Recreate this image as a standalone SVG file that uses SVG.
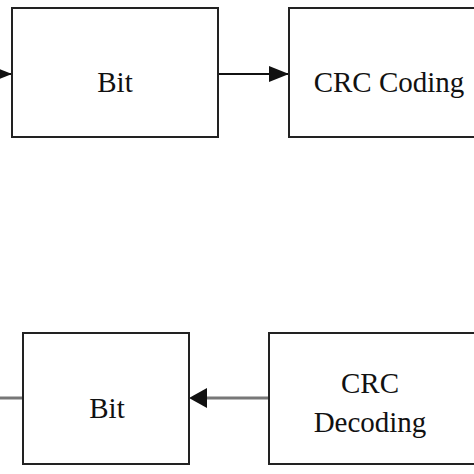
<svg xmlns="http://www.w3.org/2000/svg" width="474" height="474" viewBox="0 0 474 474">
<style>
.box{fill:#fff;stroke:#222;stroke-width:2}
.t{font-family:"Liberation Serif","Times New Roman",serif;font-size:29px;fill:#111;text-anchor:middle}
.c1{stroke:#111;stroke-width:2;fill:none}
.c2{stroke:#777;stroke-width:3;fill:none}
</style>
<defs>
<marker id="ah" markerWidth="20" markerHeight="16" refX="20" refY="8" orient="auto" markerUnits="userSpaceOnUse">
<path d="M0,0 L20,8 L0,16 Z" fill="#111"/>
</marker>
</defs>
<g id="connectors">
<line class="c1" x1="-10" y1="74" x2="12" y2="74" marker-end="url(#ah)"/>
<line class="c1" x1="218" y1="74" x2="289" y2="74" marker-end="url(#ah)"/>
<line class="c2" x1="0" y1="398" x2="23" y2="398"/>
<line class="c2" x1="269" y1="398" x2="206" y2="398"/>
<path d="M207,388 L189,398 L207,408 Z" fill="#111"/>
</g>
<g id="bit-top">
<rect class="box" x="12" y="8" width="206" height="129"/>
<text class="t" x="115" y="92">Bit</text>
</g>
<g id="crc-coding">
<rect class="box" x="289" y="8" width="200" height="129"/>
<text class="t" x="389" y="92">CRC Coding</text>
</g>
<g id="bit-bottom">
<rect class="box" x="23" y="333" width="166" height="131"/>
<text class="t" x="107" y="418">Bit</text>
</g>
<g id="crc-decoding">
<rect class="box" x="269" y="333" width="220" height="131"/>
<text class="t" x="370" y="393">CRC</text>
<text class="t" x="370" y="432">Decoding</text>
</g>
</svg>
